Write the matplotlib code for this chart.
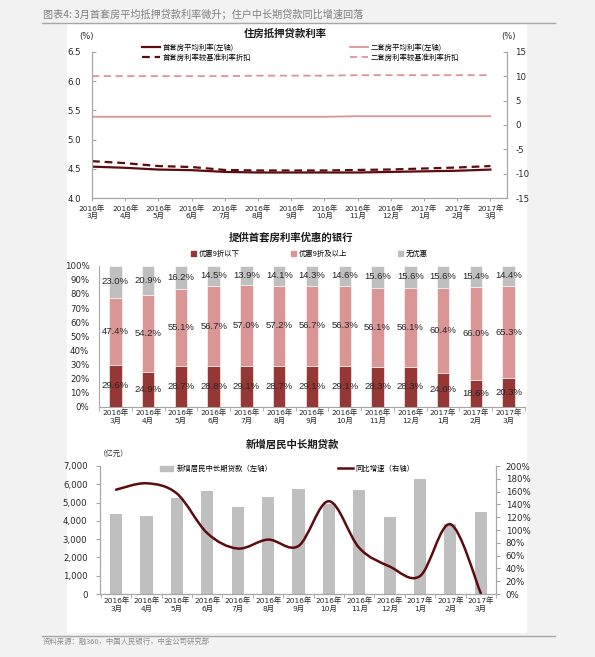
import matplotlib.pyplot as plt
import numpy as np
from matplotlib.patches import Rectangle, Patch, PathPatch
from matplotlib.lines import Line2D
from matplotlib.path import Path
import matplotlib.ticker as mticker

plt.rcParams['font.family'] = ['DejaVu Sans', 'Noto Sans CJK SC']
plt.rcParams['axes.unicode_minus'] = False
CJK = ['Noto Sans CJK SC', 'DejaVu Sans']

# ---- data ----
months = ['2016年\n3月', '2016年\n4月', '2016年\n5月', '2016年\n6月', '2016年\n7月',
          '2016年\n8月', '2016年\n9月', '2016年\n10月', '2016年\n11月', '2016年\n12月',
          '2017年\n1月', '2017年\n2月', '2017年\n3月']

# mortgage rates (left axis, %) and discount vs benchmark (right axis, %)
first_avg = [4.54, 4.52, 4.49, 4.48, 4.45, 4.44, 4.44, 4.44, 4.44, 4.45, 4.46, 4.47, 4.49]
second_avg = [5.39, 5.39, 5.39, 5.39, 5.39, 5.39, 5.39, 5.39, 5.40, 5.40, 5.40, 5.40, 5.40]
first_disc = [-7.4, -7.8, -8.4, -8.6, -9.2, -9.3, -9.3, -9.3, -9.2, -9.1, -8.9, -8.7, -8.4]
second_disc = [10.0, 10.0, 10.0, 10.0, 10.0, 10.1, 10.1, 10.1, 10.2, 10.2, 10.2, 10.2, 10.2]

# share of banks offering first-home discounts (%)
below90 = [29.6, 24.9, 28.7, 28.8, 29.1, 28.7, 29.1, 29.1, 28.3, 28.3, 24.0, 18.6, 20.3]
above90 = [47.4, 54.2, 55.1, 56.7, 57.0, 57.2, 56.7, 56.3, 56.1, 56.1, 60.4, 66.0, 65.3]
no_disc = [23.0, 20.9, 16.2, 14.5, 13.9, 14.1, 14.3, 14.6, 15.6, 15.6, 15.6, 15.4, 14.4]

# new household medium/long-term loans (100m yuan) and yoy growth (%)
loans = [4390, 4280, 5270, 5630, 4780, 5290, 5740, 4900, 5690, 4230, 6290, 3810, 4500]
yoy = [163, 173, 157, 95, 71, 85, 75, 145, 72, 43, 28, 109, 1]

dark = '#5c0b0e'
pink = '#d99694'
bar_dark = '#953735'
gray = '#bfbfbf'
spine_c = '#a6a6a6'
txt_c = '#262626'

W, H = 595, 657
fig = plt.figure(figsize=(W / 100, H / 100), dpi=100)
fig.patch.set_facecolor('#f2f2f2')


def fx(px):
    return px / W


def fy(py):
    return 1 - py / H


def axes_px(l, t, r, b):
    return fig.add_axes([fx(l), fy(b), (r - l) / W, (b - t) / H])


# white chart area and separator lines
fig.patches.append(Rectangle((fx(67), fy(633)), (527 - 67) / W, (633 - 23) / H,
                             transform=fig.transFigure, facecolor='white',
                             edgecolor='none', zorder=-5))
for yy in (22.7, 635.7):
    fig.lines.append(Line2D([fx(42), fx(555)], [fy(yy), fy(yy)], transform=fig.transFigure,
                            color='#a6a6a6', lw=1.0, zorder=-4))
fig.text(fx(43), fy(14), '图表4: 3月首套房平均抵押贷款利率微升；住户中长期贷款同比增速回落',
         family=CJK, fontsize=7.3, color='#7f7f7f', va='center', ha='left')
fig.text(fx(43), fy(642), '资料来源：融360，中国人民银行，中金公司研究部',
         family=CJK, fontsize=5.3, color='#8c8c8c', va='center', ha='left')


def legend_item(handle, label, x, y, hl=2.4):
    fig.legend([handle], [label], loc='center left', bbox_to_anchor=(fx(x), fy(y)),
               frameon=False, prop={'family': CJK, 'size': 5.3}, handlelength=hl,
               handleheight=0.7, handletextpad=0.4, borderpad=0, borderaxespad=0)


def style_x(ax, major_len):
    ax.set_xticks(np.arange(13))
    ax.set_xticklabels(months, fontsize=5.3, color=txt_c, linespacing=1.15)
    ax.tick_params(axis='x', length=major_len, color=spine_c, pad=1.5)
    ax.spines['top'].set_visible(False)
    for s in ('left', 'right', 'bottom'):
        ax.spines[s].set_color(spine_c)


x = np.arange(13)

# ---- panel 1: mortgage rates ----
ax1 = axes_px(92, 51.7, 507, 198.3)
ax1.patch.set_alpha(0)
ax1.plot(x, second_avg, color=pink, lw=1.3)
ax1.plot(x, first_avg, color=dark, lw=1.6)
ax1.set_xlim(0, 12.5)
ax1.set_ylim(4.0, 6.5)
ax1.set_yticks(np.arange(4.0, 6.51, 0.5))
ax1.yaxis.set_major_formatter(mticker.FormatStrFormatter('%.1f'))
ax1.tick_params(axis='y', direction='in', length=3, color=spine_c, labelsize=6.2, pad=8,
                labelcolor=txt_c)
style_x(ax1, 2.5)
ax1r = ax1.twinx()
ax1r.plot(x, second_disc, color=pink, lw=1.3, ls=(0, (4, 2.5)))
ax1r.plot(x, first_disc, color=dark, lw=1.6, ls=(0, (3.5, 2.2)))
ax1r.set_ylim(-15, 15)
ax1r.set_yticks(np.arange(-15, 16, 5))
ax1r.tick_params(axis='y', direction='in', length=3, color=spine_c, labelsize=6.2, pad=6,
                 labelcolor=txt_c)
ax1r.spines['top'].set_visible(False)
for s in ('left', 'right', 'bottom'):
    ax1r.spines[s].set_color(spine_c)

fig.text(fx(285), fy(34), '住房抵押贷款利率', family=CJK, fontsize=7.5, weight='bold',
         ha='center', va='center', color='#1a1a1a')
fig.text(fx(86), fy(37), '(%)', fontsize=6, ha='center', va='center', color=txt_c)
fig.text(fx(509), fy(37), '(%)', fontsize=6, ha='center', va='center', color=txt_c)
legend_item(Line2D([], [], color=dark, lw=1.6), '首套房平均利率(左轴)', 142, 47.3)
legend_item(Line2D([], [], color=dark, lw=1.6, ls=(0, (3.5, 2.2))), '首套房利率较基准利率折扣', 142, 57.7)
legend_item(Line2D([], [], color=pink, lw=1.3), '二套房平均利率(左轴)', 350, 47.3)
legend_item(Line2D([], [], color=pink, lw=1.3, ls=(0, (4, 2.5))), '二套房利率较基准利率折扣', 350, 57.7)

# ---- panel 2: stacked bars ----
ax2 = axes_px(99, 265.7, 525, 406.7)
ax2.patch.set_alpha(0)
b1 = np.array(below90)
b2 = np.array(above90)
b3 = np.array(no_disc)
bw = 0.38
ax2.bar(x, b1, width=bw, color=bar_dark, edgecolor='white', lw=0.4)
ax2.bar(x, b2, width=bw, bottom=b1, color=pink, edgecolor='white', lw=0.4)
ax2.bar(x, b3, width=bw, bottom=b1 + b2, color=gray, edgecolor='white', lw=0.4)
for i in range(13):
    for bottom, v in ((0, b1[i]), (b1[i], b2[i]), (b1[i] + b2[i], b3[i])):
        ax2.text(i, bottom + v / 2, f'{v:.1f}%', ha='center', va='center',
                 fontsize=6.8, color=txt_c, family='Liberation Sans')
ax2.set_xlim(-0.46, 12.5)
ax2.set_ylim(0, 100)
ax2.set_yticks(np.arange(0, 101, 10))
ax2.yaxis.set_major_formatter(mticker.FuncFormatter(lambda v, p: f'{v:.0f}%'))
ax2.tick_params(axis='y', length=0, labelsize=6.2, pad=7, labelcolor=txt_c)
style_x(ax2, 0)
ax2.spines['right'].set_visible(False)
ax2.set_xticks(np.arange(-0.5, 12.6, 1), minor=True)
ax2.tick_params(axis='x', which='minor', length=3, color=spine_c)

fig.text(fx(291), fy(237), '提供首套房利率优惠的银行', family=CJK, fontsize=7.5, weight='bold',
         ha='center', va='center', color='#1a1a1a')
legend_item(Patch(color=bar_dark), '优惠9折以下', 191, 254, hl=0.7)
legend_item(Patch(color=pink), '优惠9折及以上', 291, 254, hl=0.7)
legend_item(Patch(color=gray), '无优惠', 398, 254, hl=0.7)

# ---- panel 3: new loans and yoy growth ----
ax3 = axes_px(100, 466, 496, 594)
ax3.patch.set_alpha(0)
ax3.bar(x, loans, width=0.4, color=gray)
ax3.set_xlim(-0.53, 12.5)
ax3.set_ylim(0, 7000)
ax3.set_yticks(np.arange(0, 7001, 1000))
ax3.yaxis.set_major_formatter(mticker.FuncFormatter(lambda v, p: f'{v:,.0f}'))
ax3.tick_params(axis='y', length=3, color=spine_c, labelsize=6.2, pad=6, labelcolor=txt_c)
style_x(ax3, 0)
ax3.set_xticks(np.arange(-0.5, 12.6, 1), minor=True)
ax3.tick_params(axis='x', which='minor', length=3, color=spine_c)

ax3r = ax3.twinx()
ax3r.set_ylim(0, 200)
ax3r.set_yticks(np.arange(0, 201, 20))
ax3r.yaxis.set_major_formatter(mticker.FuncFormatter(lambda v, p: f'{v:.0f}%'))
ax3r.tick_params(axis='y', length=3, color=spine_c, labelsize=6.2, pad=4, labelcolor=txt_c)
ax3r.spines['top'].set_visible(False)
for s in ('left', 'right', 'bottom'):
    ax3r.spines[s].set_color(spine_c)

# smoothed line (Excel-style) drawn as a bezier path through the data points
pts = np.column_stack([x, yoy]).astype(float)
n = len(pts)
verts = [pts[0]]
codes = [Path.MOVETO]
for i in range(n - 1):
    p0 = pts[i - 1] if i > 0 else pts[i]
    p1, p2 = pts[i], pts[i + 1]
    p3 = pts[i + 2] if i + 2 < n else pts[i + 1]
    verts += [p1 + (p2 - p0) / 6, p2 - (p3 - p1) / 6, p2]
    codes += [Path.CURVE4] * 3
ax3r.add_patch(PathPatch(Path(verts, codes), fill=False, edgecolor=dark, lw=1.8,
                         capstyle='round'))

fig.text(fx(292), fy(445), '新增居民中长期贷款', family=CJK, fontsize=7.5, weight='bold',
         ha='center', va='center', color='#1a1a1a')
fig.text(fx(114), fy(454), '（亿元）', family=CJK, fontsize=5.3, ha='center', va='center',
         color=txt_c)
legend_item(Patch(color=gray), '新增居民中长期贷款（左轴）', 160, 469, hl=1.8)
legend_item(Line2D([], [], color=dark, lw=1.8), '同比增速（右轴）', 338, 469, hl=2.0)

fig.savefig('out.png', dpi=100, facecolor=fig.get_facecolor())
